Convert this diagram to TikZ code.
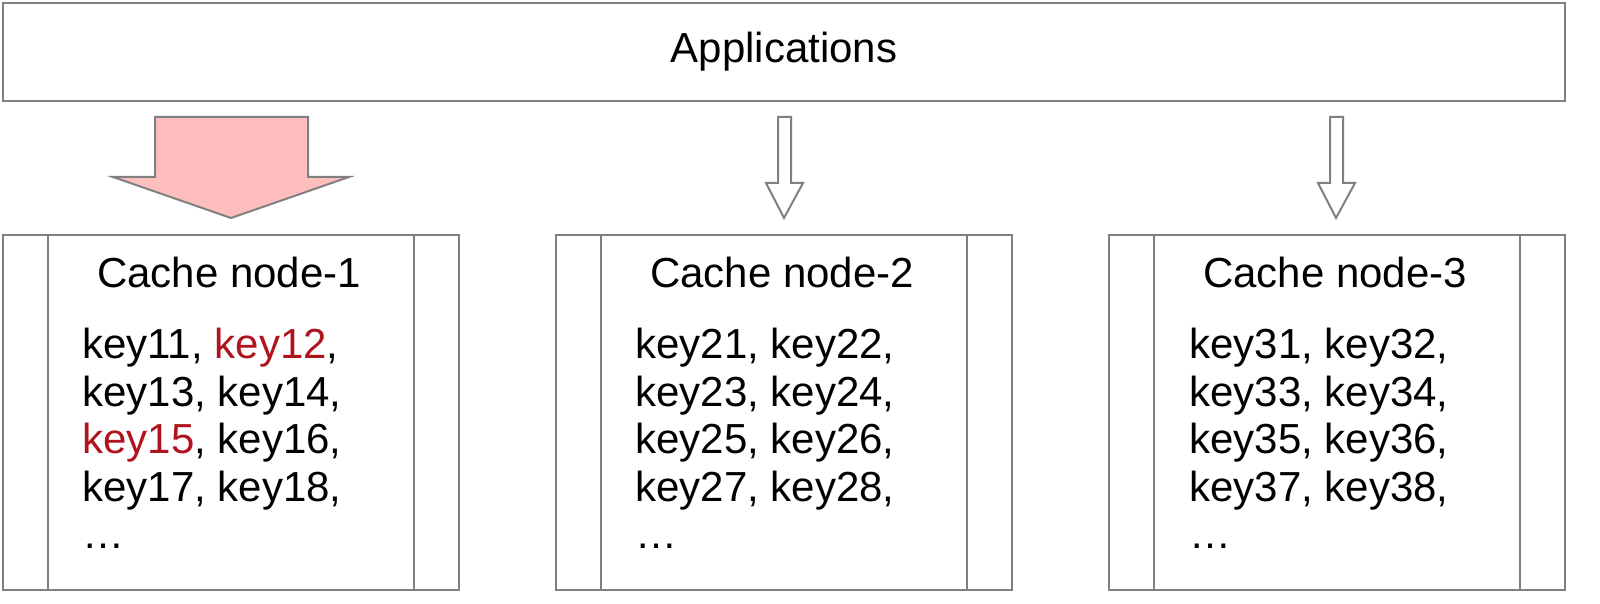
\documentclass[tikz,border=0pt]{standalone}
\usepackage{fontspec}
\setmainfont{Liberation Sans}
\definecolor{boxgray}{RGB}{128,128,128}
\definecolor{keyred}{RGB}{175,20,30}
\definecolor{arrowpink}{RGB}{255,190,190}
\tikzset{
  box/.style={draw=boxgray,line width=1pt},
  keys/.style={anchor=north west,align=left,font=\fontsize{21}{23.7}\selectfont,inner sep=0pt},
  title/.style={font=\fontsize{21}{23.7}\selectfont,inner sep=0pt},
}
\begin{document}
\begin{tikzpicture}[x=0.5pt,y=0.5pt,yscale=-1,xscale=1]
\useasboundingbox (0,0) rectangle (1600,604);

% Applications
\draw [box] (3,3) rectangle (1565,101);
\node [title] (apps) at (784,52) {Applications};

% Arrows
\draw [box,fill=arrowpink] (155,117) -- (308,117) -- (308,177) -- (349,177) -- (231,218) -- (113,177) -- (155,177) -- cycle;
\draw [box] (778,117) -- (791,117) -- (791,183) -- (803,183) -- (784,218) -- (766,183) -- (778,183) -- cycle;
\draw [box] (1330,117) -- (1343,117) -- (1343,183) -- (1355,183) -- (1336,218) -- (1318,183) -- (1330,183) -- cycle;

% Cache node boxes
\draw [box] (3,235) rectangle (459,590);
\draw [box] (48,235) -- (48,590);
\draw [box] (414,235) -- (414,590);
\draw [box] (556,235) rectangle (1012,590);
\draw [box] (601,235) -- (601,590);
\draw [box] (967,235) -- (967,590);
\draw [box] (1109,235) rectangle (1565,590);
\draw [box] (1154,235) -- (1154,590);
\draw [box] (1520,235) -- (1520,590);

% Titles
\node [title] (cache1) at (229,272) {Cache node-1};
\node [title] (cache2) at (782,272) {Cache node-2};
\node [title] (cache3) at (1335,272) {Cache node-3};

% Keys
\node [keys] (keys1) at (82,328) {key11, \textcolor{keyred}{key12},\\key13, key14,\\\textcolor{keyred}{key15}, key16,\\key17, key18,\\\ldots};
\node [keys] (keys2) at (635,328) {key21, key22,\\key23, key24,\\key25, key26,\\key27, key28,\\\ldots};
\node [keys] (keys3) at (1189,328) {key31, key32,\\key33, key34,\\key35, key36,\\key37, key38,\\\ldots};

\end{tikzpicture}
\end{document}
